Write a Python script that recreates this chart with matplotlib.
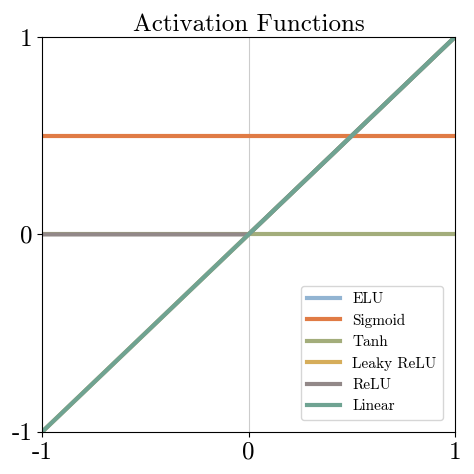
import matplotlib
matplotlib.use("Agg")
import matplotlib.pyplot as plt

x_vals = [-1.0, 0.0, 1.0]
names = ["ELU", "Sigmoid", "Tanh", "Leaky ReLU", "ReLU", "Linear"]
series = {
    "ELU": [-1.0, 0.0, 1.0],
    "Sigmoid": [0.5, 0.5, 0.5],
    "Tanh": [0.0, 0.0, 0.0],
    "Leaky ReLU": [-1.0, 0.0, 1.0],
    "ReLU": [0.0, 0.0, 1.0],
    "Linear": [-1.0, 0.0, 1.0],
}
colors = ["#92b4d2", "#e07b45", "#a3ad7b", "#d6ad5a", "#928888", "#6fa392"]
tick_vals = [-1, 0, 1]
tick_labels = ["-1", "0", "1"]

plt.rcParams["font.family"] = "serif"
plt.rcParams["font.serif"] = ["cmr10", "DejaVu Serif"]
plt.rcParams["mathtext.fontset"] = "cm"

fig, ax = plt.subplots(figsize=(4.74, 4.74), dpi=100)
ax.axvline(0, color="#cccccc", linewidth=0.8, zorder=0)
for name, color in zip(names, colors):
    ax.plot(x_vals, series[name], color=color, linewidth=3, label=name)

ax.set_xlim(-1, 1)
ax.set_ylim(-1, 1)
ax.set_xticks(tick_vals)
ax.set_xticklabels(tick_labels, fontsize=18)
ax.set_yticks(tick_vals)
ax.set_yticklabels(tick_labels, fontsize=18)
ax.set_title("Activation Functions", fontsize=18, pad=4)
ax.legend(loc="lower right", fontsize=11, frameon=True, handlelength=2.2,
          borderaxespad=0.8)
fig.subplots_adjust(left=0.089, right=0.96, bottom=0.089, top=0.922)
fig.savefig("out.png", dpi=100)
